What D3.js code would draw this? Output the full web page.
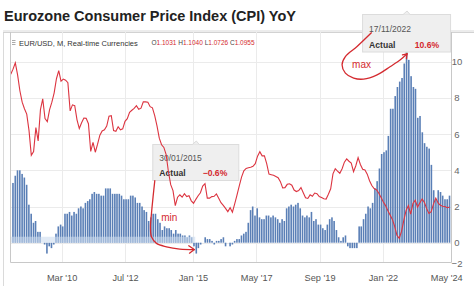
<!DOCTYPE html>
<meta charset="utf-8">
<script src="https://d3js.org/d3.v7.min.js"></script>
<style>
  body { margin: 0; background: #fff; }
  svg { display: block; font-family: "Liberation Sans", Arial, sans-serif; }
</style>
<body>
<div id="chart"></div>
<script>

// Eurozone HICP YoY (%), monthly from Apr 2008, plotted at release date
var cpiStart = "2008-04";
var cpi = [
  3.3,3.7,4.0,4.0,3.8,3.6,3.2,2.1,1.6,
  1.1,1.2,0.6,0.6,0.0,-0.1,-0.6,-0.2,-0.3,-0.1,0.5,0.9,
  1.0,0.9,1.6,1.6,1.7,1.5,1.7,1.6,1.9,2.0,1.9,2.2,
  2.3,2.4,2.7,2.8,2.7,2.7,2.6,2.6,3.0,3.0,3.0,2.7,
  2.7,2.7,2.7,2.6,2.4,2.4,2.4,2.6,2.6,2.5,2.2,2.2,
  2.0,1.8,1.7,1.2,1.4,1.6,1.6,1.3,1.1,0.7,0.9,0.8,
  0.8,0.7,0.5,0.7,0.5,0.5,0.4,0.4,0.3,0.4,0.3,-0.2,
  -0.6,-0.3,-0.1,0.0,0.3,0.2,0.2,0.1,-0.1,0.1,0.1,0.2,
  0.3,-0.2,0.0,-0.2,-0.1,0.1,0.2,0.2,0.4,0.5,0.6,1.1,
  1.8,2.0,1.5,1.9,1.4,1.3,1.3,1.5,1.5,1.4,1.5,1.4,
  1.3,1.1,1.3,1.2,1.9,2.0,2.1,2.0,2.1,2.2,1.9,1.5,
  1.4,1.5,1.4,1.7,1.2,1.3,1.0,1.0,0.8,0.7,1.0,1.3,
  1.4,1.2,0.7,0.3,0.1,0.3,0.4,-0.2,-0.3,-0.3,-0.3,-0.3,
  0.9,0.9,1.3,1.6,2.0,1.9,2.2,3.0,3.4,4.1,4.9,5.0,
  5.1,5.9,7.4,7.4,8.1,8.6,8.9,9.1,9.9,10.6,10.1,9.2,
  8.6,8.5,6.9,7.0,6.1,5.5,5.3,5.2,4.3,2.9,2.4,2.9,
  2.8,2.6,2.4,2.4,2.6
];

// EUR/USD overlay (red line), evenly sampled across the plot
var fxRate = [
  1.534,1.551,1.572,1.532,1.479,1.441,1.419,1.401,1.346,1.264,
  1.276,1.356,1.312,1.416,1.452,1.386,1.376,1.416,1.441,1.472,
  1.519,1.546,1.511,1.518,1.514,1.506,1.412,1.432,1.429,1.382,
  1.353,1.372,1.388,1.387,1.369,1.277,1.307,1.274,1.301,1.331,
  1.345,1.349,1.361,1.394,1.396,1.346,1.344,1.359,1.349,1.352,
  1.377,1.386,1.407,1.414,1.420,1.429,1.417,1.421,1.442,1.442,
  1.441,1.426,1.422,1.396,1.362,1.321,1.299,1.290,1.266,1.209,
  1.166,1.146,1.096,1.124,1.132,1.124,1.136,1.126,1.129,1.112,
  1.104,1.117,1.129,1.139,1.161,1.169,1.121,1.121,1.126,1.127,
  1.135,1.121,1.106,1.097,1.087,1.076,1.089,1.074,1.102,1.131,
  1.162,1.191,1.212,1.220,1.222,1.224,1.227,1.236,1.261,1.276,
  1.262,1.262,1.236,1.201,1.199,1.197,1.193,1.189,1.176,1.155,
  1.156,1.167,1.169,1.164,1.148,1.143,1.146,1.156,1.139,1.122,
  1.120,1.132,1.127,1.138,1.136,1.126,1.123,1.119,1.118,1.134,
  1.152,1.202,1.219,1.211,1.204,1.219,1.241,1.252,1.244,1.238,
  1.209,1.229,1.256,1.233,1.217,1.215,1.201,1.179,1.163,1.153,
  1.149,1.138,1.124,1.109,1.096,1.080,1.065,1.050,1.027,0.997,
  0.987,1.010,1.047,1.080,1.096,1.068,1.103,1.114,1.091,1.105,
  1.118,1.107,1.086,1.070,1.076,1.102,1.121,1.105,1.097,1.094,
  1.093,1.089,1.091
];

var tickMonths = ["2010-03", "2012-07", "2015-01", "2017-05", "2019-09", "2022-01", "2024-05"];
var tickLabels = ["Mar '10", "Jul '12", "Jan '15", "May '17", "Sep '19", "Jan '22", "May '24"];
var yTicks = [10, 8, 6, 4, 2, 0, -2];

var calloutMonth = ["2015-01", "2022-10"];
var calloutDate = ["30/01/2015", "17/11/2022"];
var calloutNote = ["min", "max"];

var ohlc = [["O", "1.1031"], ["H", "1.1040"], ["L", "1.0726"], ["C", "1.0955"]];

var W = 474, H = 286;
var plot = {left: 10, right: 451, top: 32, bottom: 262};
var red = "#d42a2f";

var parseMonth = d3.timeParse("%Y-%m");
var start = parseMonth(cpiStart);
function released(i) { return d3.timeDay.offset(d3.timeMonth.offset(start, i + 1), 14); }

var x = d3.scaleTime()
  .domain([d3.timeDay.offset(start, 4), d3.timeDay.offset(d3.timeMonth.offset(start, cpi.length + 1), 4)])
  .range([plot.left, plot.right]);

var y = d3.scaleLinear().domain([-1.066, 11.64]).range([plot.bottom, plot.top]);

// overlay scales
var xFx = d3.scaleLinear().domain([0, fxRate.length - 1])
  .range([x(d3.timeDay.offset(start, 14)), x(d3.timeDay.offset(d3.timeMonth.offset(start, cpi.length), 14))]);
var yFx = d3.scaleLinear().domain([0.90, 1.60]).range([y(-1.2), y(10.4)]);

var svg = d3.select("#chart").append("svg").attr("width", W).attr("height", H);

// title
svg.append("text").attr("x", 4).attr("y", 21)
  .style("font-size", "14.5px").style("font-weight", "bold").attr("fill", "#222")
  .text("Eurozone Consumer Price Index (CPI) YoY");

// frame
svg.append("line").attr("x1", 3).attr("x2", W).attr("y1", 31).attr("y2", 31).attr("stroke", "#ececec").attr("stroke-width", 2);
svg.append("line").attr("x1", 3).attr("x2", W).attr("y1", 32.5).attr("y2", 32.5).attr("stroke", "#d2d2d2");
svg.append("line").attr("x1", 3.5).attr("x2", 3.5).attr("y1", 33).attr("y2", H).attr("stroke", "#dadada");

// grid
svg.append("g").selectAll("line").data(yTicks.filter(function(d) { return y(d) > plot.top && y(d) < plot.bottom; }))
  .enter().append("line")
    .attr("x1", plot.left).attr("x2", plot.right)
    .attr("y1", function(d) { return Math.round(y(d)) + 0.5; })
    .attr("y2", function(d) { return Math.round(y(d)) + 0.5; })
    .attr("stroke", "#ebebeb");

svg.append("g").selectAll("line").data(tickMonths.slice(0, -1))
  .enter().append("line")
    .attr("x1", function(d) { return Math.round(x(parseMonth(d))) + 0.5; })
    .attr("x2", function(d) { return Math.round(x(parseMonth(d))) + 0.5; })
    .attr("y1", plot.top).attr("y2", plot.bottom)
    .attr("stroke", "#ebebeb");

// bars
svg.append("g").selectAll("rect").data(cpi)
  .enter().append("rect")
    .attr("x", function(d, i) { return x(released(i)) - 0.8; })
    .attr("width", 1.6)
    .attr("y", function(d) { return y(Math.max(0, d)); })
    .attr("height", function(d) { return Math.abs(y(d) - y(0)); })
    .attr("fill", "#5a7fb6");

// pale band near zero on the early bars
svg.append("rect")
  .attr("x", plot.left + 1).attr("y", y(0.33))
  .attr("width", x(parseMonth("2015-02")) - plot.left - 1)
  .attr("height", y(0) - y(0.33))
  .attr("fill", "#cddcee").attr("opacity", 0.6);

// callouts
var iMin = d3.timeMonth.count(start, parseMonth(calloutMonth[0]));
var iMax = d3.timeMonth.count(start, parseMonth(calloutMonth[1]));

// highlighted top of max bar
svg.append("rect")
  .attr("x", x(released(iMax)) - 0.8).attr("width", 1.6)
  .attr("y", y(cpi[iMax])).attr("height", 2.5)
  .attr("fill", "#86d0b8");

function tooltip(cx, top, w, h, date, val) {
  var g = svg.append("g");
  var left = cx - w / 2;
  g.append("rect").attr("x", left + 0.5).attr("y", top + 0.5).attr("width", w).attr("height", h)
    .attr("fill", "#efefef").attr("stroke", "#dcdcdc");
  g.append("path")
    .attr("d", "M" + (cx - 3) + "," + (top + 0.5) + "L" + (cx + 1) + "," + (top - 3) + "L" + (cx + 4) + "," + (top + 0.5))
    .attr("fill", "#efefef").attr("stroke", "#dcdcdc");
  g.append("text").attr("x", left + 7).attr("y", top + h * 0.47)
    .style("font-size", "8.5px").attr("fill", "#555").text(date);
  g.append("text").attr("x", left + 7).attr("y", top + h * 0.9)
    .style("font-size", "8.6px").style("font-weight", "bold").attr("fill", "#333").text("Actual");
  g.append("text").attr("x", left + w - 11).attr("y", top + h * 0.9).attr("text-anchor", "end")
    .style("font-size", "8.6px").style("font-weight", "bold").attr("fill", red).text(d3.format(".1f")(val) + "%");
}

tooltip(x(released(iMin)) - 1, 144, 86, 36, calloutDate[0], cpi[iMin]);
tooltip(x(released(iMax)) - 0.5, 14, 88, 37.5, calloutDate[1], cpi[iMax]);

// EUR/USD line
svg.append("path")
  .datum(fxRate)
  .attr("d", d3.line().x(function(d, i) { return xFx(i); }).y(function(d) { return yFx(d); }))
  .attr("fill", "none").attr("stroke", "#dc3440").attr("stroke-width", 1.1);

// hand drawn arrows
var curve = d3.line().curve(d3.curveCatmullRom);
function arrow(tx, ty, pts, barbs, note, nx, ny) {
  var g = svg.append("g").attr("fill", "none").attr("stroke", red).attr("stroke-width", 1.3).attr("stroke-linecap", "round");
  g.append("path").attr("d", curve(pts.map(function(p) { return [tx + p[0], ty + p[1]]; })));
  barbs.forEach(function(b) {
    g.append("line").attr("x1", tx).attr("y1", ty).attr("x2", tx + b[0]).attr("y2", ty + b[1]);
  });
  svg.append("text").attr("x", tx + nx).attr("y", ty + ny)
    .style("font-size", "10px").attr("fill", red).text(note);
}

var minTip = [x(released(iMin)) - 2, y(cpi[iMin]) - 4];
arrow(minTip[0], minTip[1],
  [[-39.5, -68.8], [-41.2, -52.8], [-42.8, -36.2], [-43.8, -22.8], [-42.8, -12.8], [-37.8, -6.2], [-27.8, -2.8], [-14.5, -0.5], [0, 0]],
  [[-5.5, -3.8], [-4.8, 3.6]], calloutNote[0], -33, -29);

var maxTip = [x(released(iMax)) + 0.5, y(cpi[iMax]) + 3];
arrow(maxTip[0], maxTip[1],
  [[-35.7, -21], [-50, -7.3], [-61.7, 2.7], [-65, 11], [-61.7, 19.3], [-53.4, 24.3], [-43.4, 25.3], [-30, 21], [-16.7, 12.7], [-6.7, 6], [0, 0]],
  [[-4.6, 1], [-0.6, 4.8]], calloutNote[1], -55, 14.5);

// plot border
svg.append("path")
  .attr("d", "M" + (plot.left + 0.5) + "," + plot.top + "V" + (plot.bottom + 0.5) + "H" + (plot.right + 0.5) + "V" + plot.top)
  .attr("fill", "none").attr("stroke", "#c8c8c8");

// y axis labels (right side); the lowest label sits on the bottom edge
var yAxis = svg.append("g").attr("transform", "translate(" + (plot.right + 6) + ",0)")
  .call(d3.axisRight(y).tickValues(yTicks).tickSize(0).tickPadding(0).tickFormat(d3.format("d")));
yAxis.select(".domain").remove();
yAxis.selectAll(".tick")
  .filter(function(d) { return y(d) > plot.bottom; })
  .attr("transform", "translate(0," + (plot.bottom + 2) + ")");
yAxis.selectAll("text").attr("text-anchor", "middle").attr("fill", "#666")
  .style("font-size", "9.5px").style("font-family", "\"Liberation Sans\", Arial, sans-serif");

// x axis labels
var xAxis = svg.append("g").attr("transform", "translate(0," + plot.bottom + ")")
  .call(d3.axisBottom(x).tickValues(tickMonths.map(parseMonth)).tickSize(0).tickPadding(12)
    .tickFormat(function(d, i) { return tickLabels[i]; }));
xAxis.select(".domain").remove();
xAxis.selectAll("text").attr("fill", "#555")
  .style("font-size", "9.2px").style("font-family", "\"Liberation Sans\", Arial, sans-serif");

// legend line
svg.append("g").attr("stroke", "#aaa").selectAll("line").data([0, 2, 4]).enter().append("line")
  .attr("x1", 12).attr("x2", 15.5).attr("y1", function(d) { return 40.5 + d; }).attr("y2", function(d) { return 40.5 + d; });
svg.append("text").attr("x", 19).attr("y", 45.5).style("font-size", "7.5px").attr("fill", "#333")
  .text("EUR/USD, M, Real-time Currencies");
var ot = svg.append("text").attr("x", 151.5).attr("y", 45.3).style("font-size", "6.5px");
ohlc.forEach(function(p, i) {
  ot.append("tspan").attr("fill", "#444").text((i ? " " : "") + p[0]);
  ot.append("tspan").attr("fill", red).text(p[1]);
});

</script>
</body>
